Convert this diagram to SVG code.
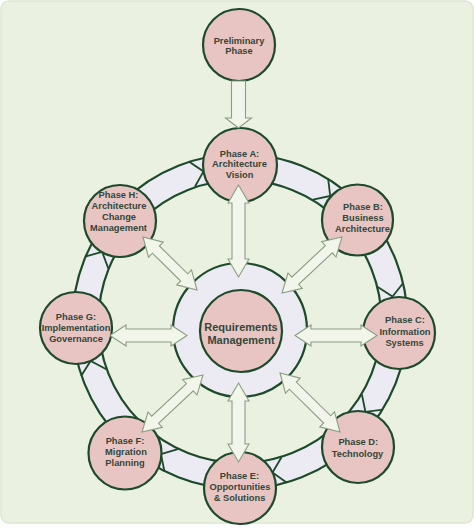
<svg xmlns="http://www.w3.org/2000/svg" width="474" height="528" viewBox="0 0 474 528">
<defs>
<style>
.bg{fill:#ebf1e1;stroke:#dde5d2;stroke-width:1.5}
.ring{fill:#eceaf3;stroke:#1d4a2b;stroke-width:2.2;fill-rule:evenodd}
.node{fill:#e8c5c3;stroke:#1d4a2b;stroke-width:2.2}
.chev{fill:none;stroke:#1d4a2b;stroke-width:1.8;stroke-linejoin:miter}
.arr{fill:#f2f6ea;stroke:#8c9c84;stroke-width:1.1;stroke-linejoin:miter}
.t{font-family:"Liberation Sans",Arial,sans-serif;font-weight:bold;font-size:9.3px;fill:#34473a;text-anchor:middle}
.tb{font-family:"Liberation Sans",Arial,sans-serif;font-weight:bold;font-size:11px;fill:#34473a;text-anchor:middle}
</style>
</defs>
<rect class="bg" x="1" y="1" width="472" height="522" rx="8"/>
<g id="cycle">
<path class="ring" d="M407.5 321.5A167.5 167.5 0 1 1 72.5 321.5A167.5 167.5 0 1 1 407.5 321.5ZM381.5 321.5A141.5 141.5 0 1 0 98.5 321.5A141.5 141.5 0 1 0 381.5 321.5Z"/>
<polyline class="chev" points="188.8,161.6 203.5,171.4 194.9,186.8"/>
<polyline class="chev" points="328.1,178.4 330.2,196.0 312.9,199.6"/>
<polyline class="chev" points="403.4,282.7 392.5,296.6 377.8,286.9"/>
<polyline class="chev" points="383.0,409.7 365.4,411.8 361.9,394.5"/>
<polyline class="chev" points="286.9,482.7 272.5,472.5 281.5,457.3"/>
<polyline class="chev" points="164.5,471.5 160.9,454.2 177.9,449.1"/>
<polyline class="chev" points="81.1,375.9 90.6,361.0 106.3,369.3"/>
<polyline class="chev" points="85.1,256.6 102.1,251.8 108.3,268.4"/>
</g>
<g id="requirements">
<circle class="ring" cx="240" cy="330" r="67"/>
<circle class="node" cx="241" cy="331" r="41"/>
<text class="tb" x="241" y="331.2">Requirements</text>
<text class="tb" x="241" y="344">Management</text>
</g>
<g id="preliminary">
<circle class="node" cx="239" cy="45" r="36"/>
<text class="t" x="239" y="44">Preliminary</text>
<text class="t" x="239" y="54.3">Phase</text>
</g>
<g id="phaseA">
<circle class="node" cx="240" cy="165" r="37"/>
<text class="t" x="239.5" y="156.6">Phase A:</text>
<text class="t" x="239.5" y="167.3">Architecture</text>
<text class="t" x="239.5" y="177.6">Vision</text>
</g>
<g id="phaseB">
<circle class="node" cx="357.5" cy="220" r="35.5"/>
<text class="t" x="363" y="210">Phase B:</text>
<text class="t" x="363" y="220.6">Business</text>
<text class="t" x="362.5" y="231.6">Architecture</text>
</g>
<g id="phaseC">
<circle class="node" cx="399" cy="333" r="36"/>
<text class="t" x="405" y="323.3">Phase C:</text>
<text class="t" x="405" y="335">Information</text>
<text class="t" x="404.5" y="346">Systems</text>
</g>
<g id="phaseD">
<circle class="node" cx="358" cy="447" r="36"/>
<text class="t" x="358.3" y="445">Phase D:</text>
<text class="t" x="357.5" y="456.6">Technology</text>
</g>
<g id="phaseE">
<circle class="node" cx="240" cy="488" r="36"/>
<text class="t" x="239.5" y="479.3">Phase E:</text>
<text class="t" x="240" y="490">Opportunities</text>
<text class="t" x="239.5" y="500.6">&amp; Solutions</text>
</g>
<g id="phaseF">
<circle class="node" cx="125" cy="453" r="36.5"/>
<text class="t" x="125" y="444">Phase F:</text>
<text class="t" x="126" y="455">Migration</text>
<text class="t" x="125" y="466">Planning</text>
</g>
<g id="phaseG">
<circle class="node" cx="76" cy="328" r="36"/>
<text class="t" x="76" y="320">Phase G:</text>
<text class="t" x="76" y="331">Implementation</text>
<text class="t" x="76" y="341.6">Governance</text>
</g>
<g id="phaseH">
<circle class="node" cx="120" cy="221" r="36"/>
<text class="t" x="118.5" y="198.3">Phase H:</text>
<text class="t" x="119" y="209.3">Architecture</text>
<text class="t" x="119" y="220">Change</text>
<text class="t" x="118.5" y="231">Management</text>
</g>
<g id="connectors">
<polygon class="arr" points="231.5,81 245.5,81 245.5,118 251.5,118 238.5,128 225.5,118 231.5,118"/>
<polygon class="arr" points="238.5,185 249,203 245,203 245,259 249,259 238.5,277 228,259 232,259 232,203 228,203"/>
<polygon class="arr" points="238.5,383 249,401 245,401 245,444 249,444 238.5,462 228,444 232,444 232,401 228,401"/>
<polygon class="arr" points="110,335.5 126,325 126,329 171,329 171,325 187,335.5 171,346 171,342 126,342 126,346"/>
<polygon class="arr" points="295,335.5 311,325 311,329 361,329 361,325 377,335.5 361,346 361,342 311,342 311,346"/>
<polygon class="arr" points="143,237 148.5,257.1 152.4,253.2 180.7,281 176.8,284.9 197,290 191.5,269.9 187.7,273.8 159.4,246 163.2,242.1"/>
<polygon class="arr" points="342,237 321.7,241.6 325.4,245.6 291.8,277.1 288,273 282,293 302.3,288.4 298.6,284.4 332.3,252.9 336,257"/>
<polygon class="arr" points="203,375 182.7,379.6 186.4,383.6 151.7,416.1 148,412 142,432 162.3,427.4 158.6,423.4 193.3,390.9 197,395"/>
<polygon class="arr" points="280,373 285.5,393.1 289.3,389.2 323.7,423 319.8,426.9 340,432 334.5,411.9 330.7,415.8 296.3,382.1 300.2,378.1"/>
</g>
</svg>
